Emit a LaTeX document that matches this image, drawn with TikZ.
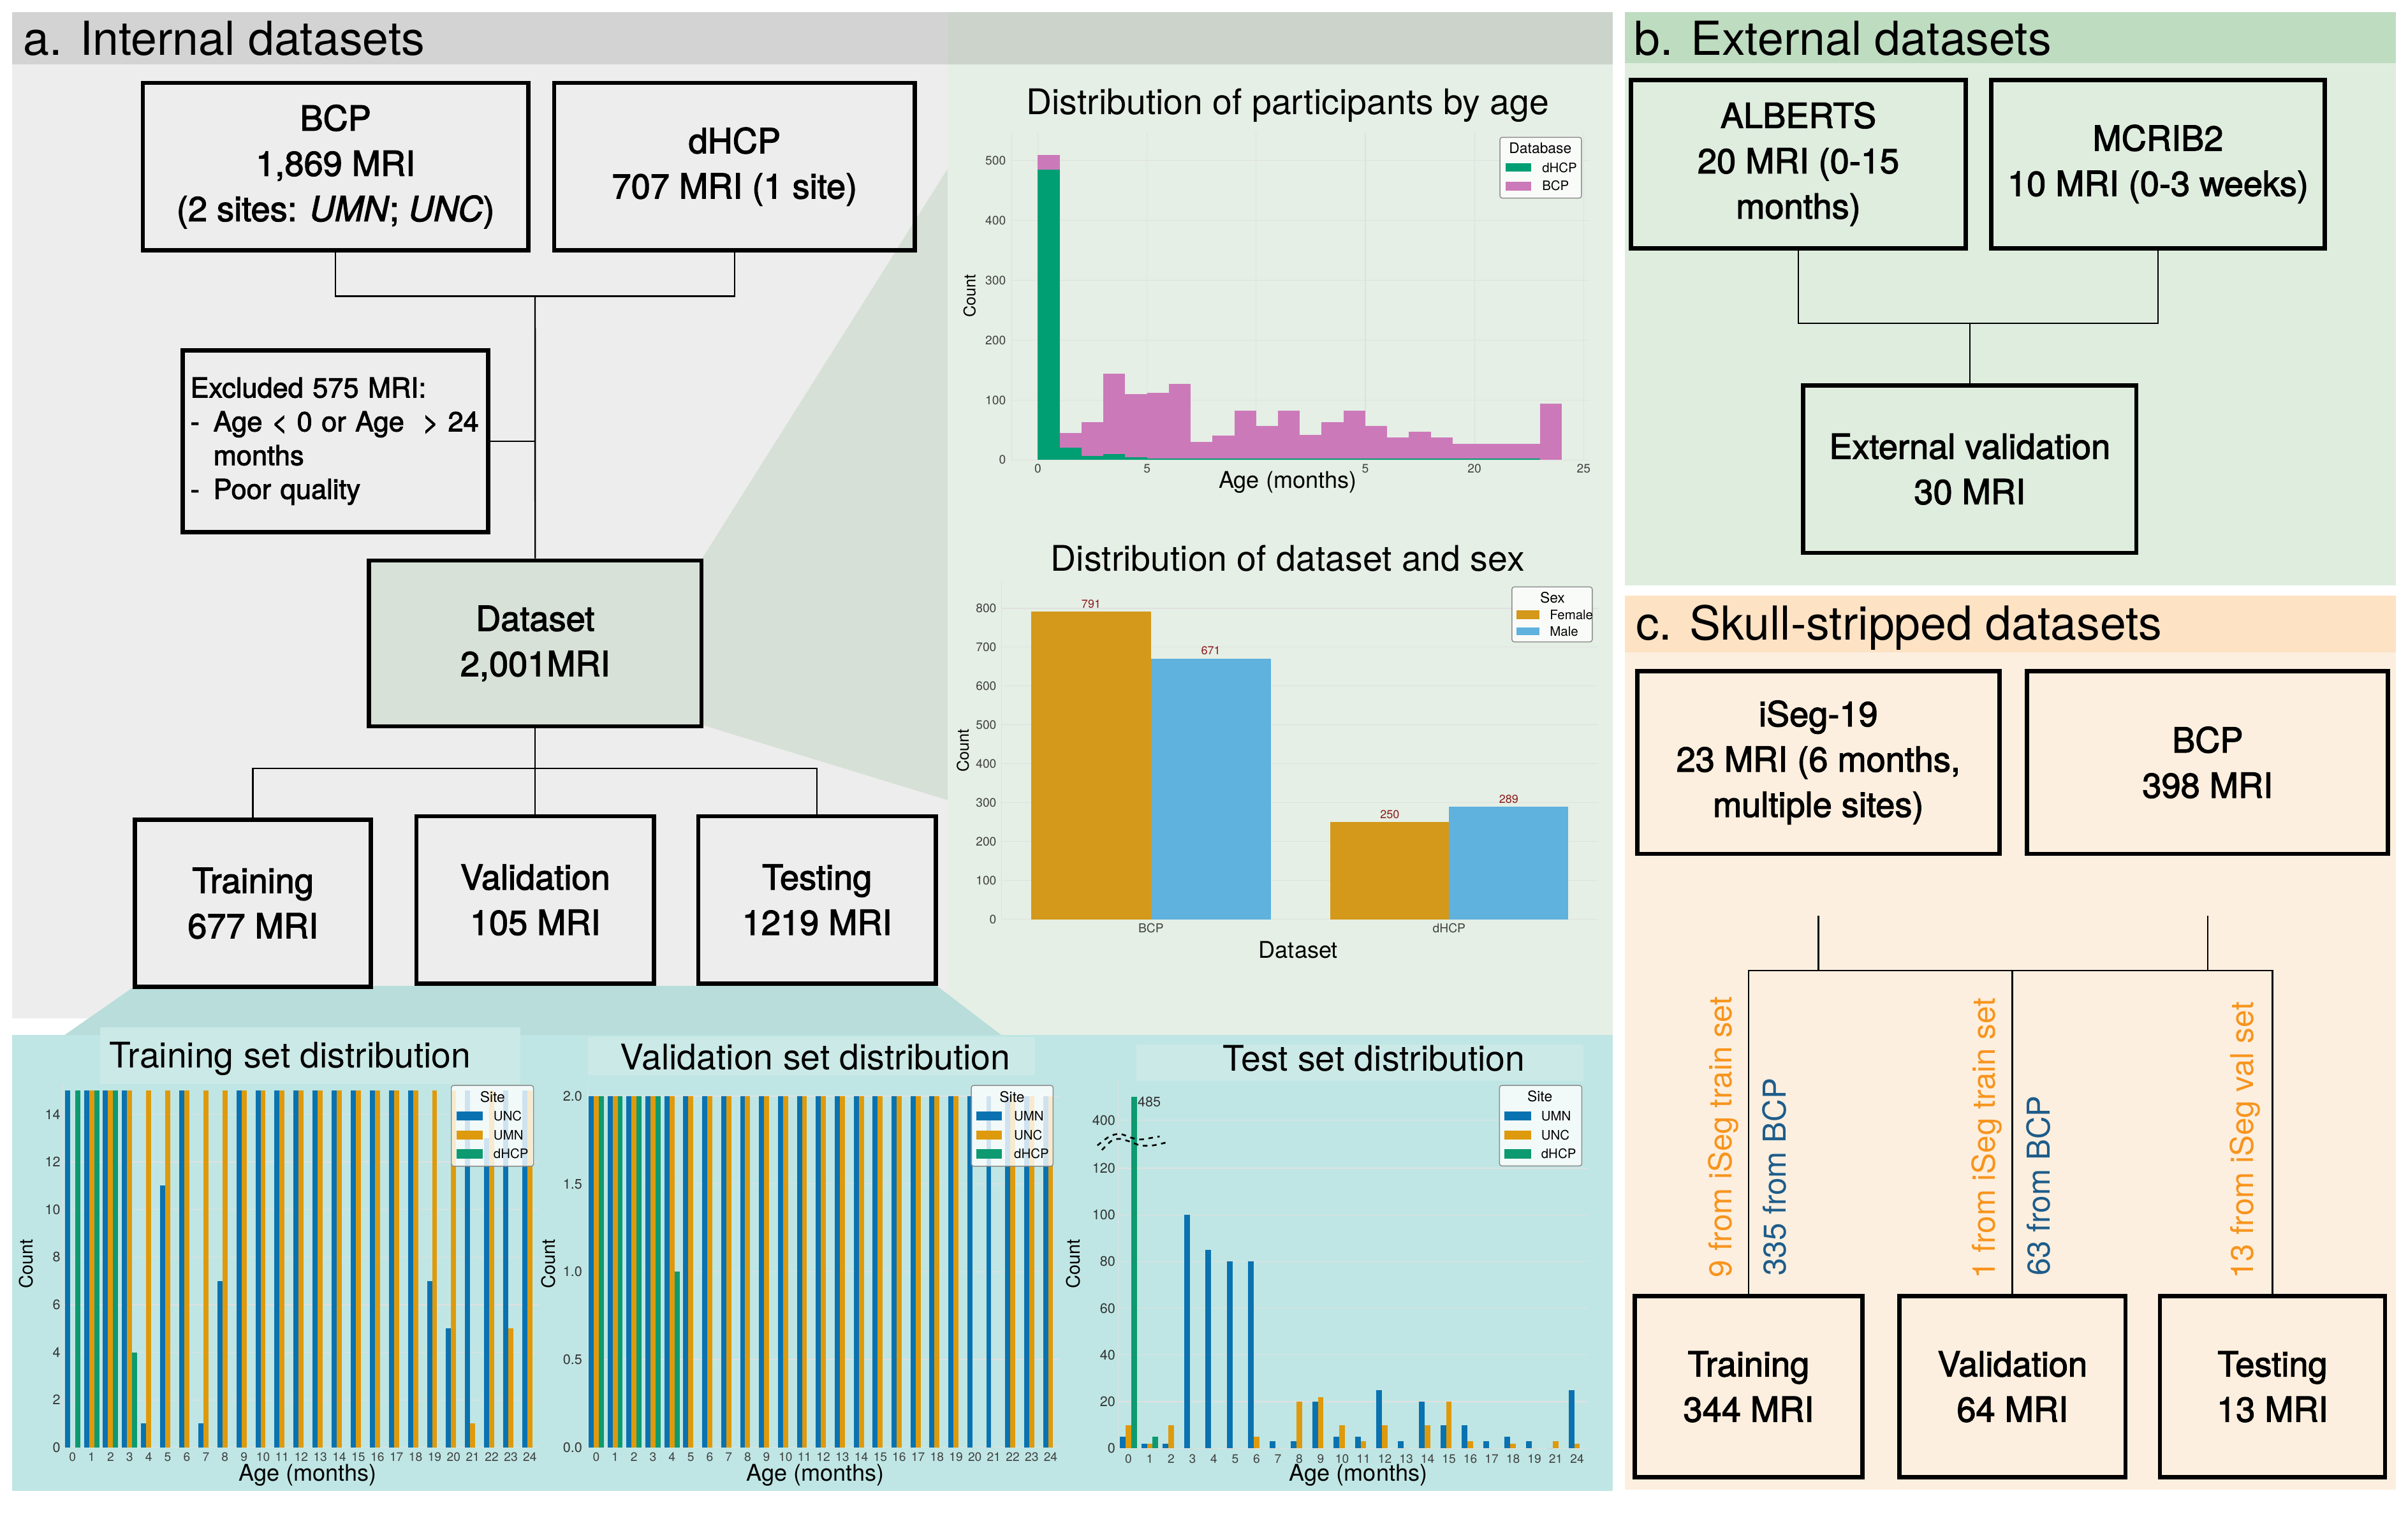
\documentclass[tikz,border=0pt]{standalone}
\usepackage{fontspec}
\setmainfont{TeX Gyre Heros}
\newfontfamily\boxfont[FakeBold=2.2]{TeX Gyre Heros}
\usetikzlibrary{positioning}

\definecolor{panelGray}{HTML}{EDEDED}
\definecolor{headGray}{HTML}{D3D3D3}
\definecolor{headGreenGray}{HTML}{CBD3CB}
\definecolor{chartGreen}{HTML}{E5EFE5}
\definecolor{wedgeGreen}{HTML}{D6E0D6}
\definecolor{dataBox}{HTML}{D7E1D7}
\definecolor{tealBg}{HTML}{BFE6E4}
\definecolor{tealWedge}{HTML}{B8DDDB}
\definecolor{tealTitle}{HTML}{CBE9E6}
\definecolor{extBg}{HTML}{DFEDDF}
\definecolor{extHead}{HTML}{BEDCC0}
\definecolor{skullBg}{HTML}{FDEFDF}
\definecolor{skullHead}{HTML}{FDE2C4}
\definecolor{siteBlue}{HTML}{0A72B0}
\definecolor{siteOrange}{HTML}{DE9A0C}
\definecolor{siteGreen}{HTML}{0D9A70}
\definecolor{dbGreen}{HTML}{009E73}
\definecolor{dbPink}{HTML}{CC79BA}
\definecolor{sexFemale}{HTML}{D4991A}
\definecolor{sexMale}{HTML}{5FB1DE}
\definecolor{valRed}{HTML}{8B1A1A}
\definecolor{iSegOrange}{HTML}{F7941D}
\definecolor{bcpBlue}{HTML}{1D5C8A}

\tikzset{
  flowbox/.style={rectangle, draw=black, line width=2.8pt, align=center, inner sep=0pt,
    font=\boxfont\fontsize{22.5}{29.5}\selectfont},
  link/.style={line width=1pt},
  panelTitle/.style={anchor=base west, inner sep=0pt, font=\fontsize{30.5}{32}\selectfont},
  chartTitle/.style={inner sep=0pt, font=\fontsize{23}{25}\selectfont},
  tickLabel/.style={inner sep=0pt, text=black!75, font=\fontsize{8}{9}\selectfont},
  siteTick/.style={inner sep=0pt, text=black!80, font=\fontsize{9}{10}\selectfont},
  axisLabel/.style={inner sep=0pt, font=\fontsize{15}{16}\selectfont},
  countLabel/.style={inner sep=0pt, rotate=90, font=\fontsize{12}{13}\selectfont},
  legendBox/.style={draw=black!45, fill=white, fill opacity=0.8, rounded corners=1.5pt, line width=0.6pt},
  legendHead/.style={inner sep=0pt, font=\fontsize{9.5}{10}\selectfont},
  legendText/.style={anchor=west, inner sep=0pt, font=\fontsize{8.5}{9}\selectfont},
  splitLabel/.style={rotate=90, anchor=west, inner sep=0pt, font=\fontsize{20.5}{22}\selectfont},
  gridLine/.style={draw=black!12, line width=0.5pt},
}

\begin{document}
\begin{tikzpicture}[x=1pt, y=-1pt]
	\useasboundingbox (0,0) rectangle (1568,998);
	\fill[white] (0,0) rectangle (1568,998);

	% panel backgrounds
	\fill[panelGray] (8,8) rectangle (1050,663);
	\fill[chartGreen] (617,42) rectangle (1050,674);
	\fill[headGray] (8,8) rectangle (617,42);
	\fill[headGreenGray] (617,8) rectangle (1050,42);
	\fill[wedgeGreen] (457,364) -- (617,110) -- (617,521) -- (457,472) -- cycle;
	\fill[tealBg] (8,674) rectangle (1050,971);
	\fill[tealWedge] (88,642) -- (610,642) -- (652,674) -- (42,674) -- cycle;
	\fill[extBg] (1058,8) rectangle (1560,381);
	\fill[extHead] (1058,8) rectangle (1560,41);
	\fill[skullBg] (1058,388) rectangle (1560,970);
	\fill[skullHead] (1058,388) rectangle (1560,425);

	\node[panelTitle] (titleA) at (15,35.8) {a. Internal datasets};
	\node[panelTitle] (titleB) at (1064,35.8) {b. External datasets};
	\node[panelTitle] (titleC) at (1065,416.6) {c. Skull-stripped datasets};

	% internal flow
	\node[flowbox, minimum width=251, minimum height=109](bcpA) at (218.5,108.5){BCP\\1,869 MRI\\(2 sites: \textit{UMN}; \textit{UNC})};
	\node[flowbox, minimum width=235, minimum height=109](dhcpA) at (478.3,108.5){dHCP\\707 MRI (1 site)};
	\coordinate (mergeA) at (348.4,192.8);
	\node[rectangle, draw=black, line width=2.8pt, minimum height=118.5, text width=189pt, align=left, inner xsep=5pt, inner ysep=0pt,
		font=\boxfont\fontsize{18}{22}\selectfont](exclA) at (218.5,287.3){Excluded 575 MRI:\\\mbox{\makebox[15pt][l]{-}Age < 0 or Age\ \ > 24}\\\hspace*{15pt}months\\\makebox[15pt][l]{-}Poor quality};
	\node[flowbox, fill=dataBox, minimum width=216.5, minimum height=108](datasetA) at (348.5,419){Dataset\\2,001MRI};
	\coordinate (splitA) at (348.5,500.3);
	\node[flowbox, minimum width=153.7, minimum height=109](trainA) at (164.7,588.2){Training\\677 MRI};
	\node[flowbox, minimum width=154.7, minimum height=109](valA) at (348.5,586){Validation\\105 MRI};
	\node[flowbox, minimum width=154.6, minimum height=109](testA) at (532,586){Testing\\1219 MRI};

	\draw[link] (bcpA.south) |- (mergeA) -| (dhcpA.south);
	\draw[link] (mergeA) -- (datasetA.north);
	\draw[link] (exclA.east) -- (exclA.east -| mergeA);
	\draw[link] (datasetA.south) -- (splitA);
	\draw[link] (trainA.north) |- (splitA) -| (testA.north);
	\draw[link] (splitA) -- (valA.north);

	% external flow
	\node[flowbox, minimum width=218, minimum height=109.6](albB) at (1171,106.8){ALBERTS\\20 MRI (0-15\\months)};
	\node[flowbox, minimum width=217, minimum height=109.6](mcribB) at (1405.2,106.8){MCRIB2\\10 MRI (0-3 weeks)};
	\coordinate (mergeB) at (1282.6,210.5);
	\node[flowbox, minimum width=217, minimum height=109](extB) at (1282.6,305.5){External validation\\30 MRI};

	\draw[link] (albB.south) |- (mergeB) -| (mcribB.south);
	\draw[link] (mergeB) -- (extB.north);

	% skull-stripped flow
	\node[flowbox, minimum width=236, minimum height=119](isegC) at (1184,496.5){iSeg-19\\23 MRI (6 months,\\multiple sites)};
	\node[flowbox, minimum width=235, minimum height=119](bcpC) at (1437.5,496.5){BCP\\398 MRI};
	\coordinate[below=39pt of isegC.south] (isegStub);
	\coordinate[below=39pt of bcpC.south] (bcpStub);
	\coordinate (joinC) at (1310.4,632);
	\node[flowbox, minimum width=148, minimum height=118](trainC) at (1138.6,903){Training\\344 MRI};
	\node[flowbox, minimum width=147.3, minimum height=118](valC) at (1310.4,903){Validation\\64 MRI};
	\node[flowbox, minimum width=146.6, minimum height=118](testC) at (1479.7,903){Testing\\13 MRI};

	\draw[link] (isegStub) -- (isegStub |- joinC);
	\draw[link] (bcpStub) -- (bcpStub |- joinC);
	\draw[link] (trainC.north) |- (joinC) -| (testC.north);
	\draw[link] (joinC) -- (valC.north);

	\node[splitLabel, text=iSegOrange](trainIseg) at (1122,832){9 from iSeg train set};
	\node[splitLabel, text=bcpBlue](trainBcp) at (1155.6,831){335 from BCP};
	\node[splitLabel, text=iSegOrange](valIseg) at (1293.6,833){1 from iSeg train set};
	\node[splitLabel, text=bcpBlue](valBcp) at (1327.5,831){63 from BCP};
	\node[splitLabel, text=iSegOrange](testIseg) at (1462,833){13 from iSeg val set};

	% participants by age
	\node[chartTitle](titleAge) at (838.5,68.7){Distribution of participants by age};
	\begin{scope}[shift={(675.8pt,-299.5pt)}, x=14.215pt, y=0.3898pt]
		\foreach \v in {0,100,...,500} \draw[gridLine] (-1.2,\v) -- (25.25,\v);
		\foreach \t in {0,5,...,25} \draw[gridLine] (\t,0) -- (\t,547);
		\draw[gridLine] (-1.2,0) -- (-1.2,547);
		\foreach \h [count=\b from 0] in {509,45,63,144,110,112,127,30,41,82,57,82,42,63,82,57,38,47,38,27,27,27,27,94}
			\fill[dbPink] (\b,0) rectangle (\b+1,\h);
		\foreach \h [count=\b from 0] in {485,20,7,10,4,2,2,2,2,2,2,2,2,2,2,2,2,2,2,2,2,2,2}
			\fill[dbGreen] (\b,0) rectangle (\b+1,\h);
		\foreach \v in {0,100,...,500} \node[tickLabel, anchor=east] at (-1.45,\v) {\v};
		\foreach \t/\l in {0/0,5/5,15/5,20/20,25/25} \node[tickLabel, anchor=north] at (\t,-7) {\l};
	\end{scope}
	\node[countLabel, font=\fontsize{10.5}{11}\selectfont](countAge) at (631.3,192.7){Count};
	\node[axisLabel](xAge) at (838.5,314){Age (months)};
	\node[legendBox, minimum width=53.1, minimum height=39.6](legAge) at (1003.25,109.2){};
	\node[legendHead](legAgeHead) at (1003,96.3){Database};
	\fill[dbGreen] (980.3,106.3) rectangle (997,111.8);
	\node[legendText](legAgeDhcp) at (1004,109.2){dHCP};
	\fill[dbPink] (980.3,118.3) rectangle (997,124.2);
	\node[legendText](legAgeBcp) at (1004,121){BCP};

	% dataset and sex
	\node[chartTitle](titleSex) at (838.5,363.7){Distribution of dataset and sex};
	\begin{scope}[shift={(0pt,-598.6pt)}, x=1pt, y=0.2531pt]
		\foreach \v in {0,100,...,800} \draw[gridLine] (652,\v) -- (1040.6,\v);
		\draw[gridLine] (652,0) -- (652,870);
		\fill[sexFemale] (671.6,0) rectangle (749.5,791);
		\fill[sexMale] (749.5,0) rectangle (827.4,671);
		\fill[sexFemale] (866.3,0) rectangle (943.6,250);
		\fill[sexMale] (943.6,0) rectangle (1021.2,289);
		\foreach \cx/\v in {710.5/791,788.4/671,905/250,982.4/289}
			\node[tickLabel, text=valRed, anchor=south, font=\fontsize{7.5}{8}\selectfont] at (\cx,\v+8) {\v};
		\foreach \v in {0,100,...,800} \node[tickLabel, anchor=east] at (649,\v) {\v};
		\node[tickLabel, anchor=north] at (749.5,-10) {BCP};
		\node[tickLabel, anchor=north] at (943.6,-10) {dHCP};
	\end{scope}
	\node[countLabel, font=\fontsize{10.5}{11}\selectfont](countSex) at (627,488.8){Count};
	\node[axisLabel](xSex) at (845.4,618.6){Dataset};
	\node[legendBox, minimum width=52.3, minimum height=35.8](legSex) at (1010.65,400.1){};
	\node[legendHead](legSexHead) at (1010.9,389){Sex};
	\fill[sexFemale] (987.3,397.6) rectangle (1002.6,403);
	\node[legendText](legSexF) at (1009,400.4){Female};
	\fill[sexMale] (987.3,408.4) rectangle (1002.6,413.7);
	\node[legendText](legSexM) at (1009,411.1){Male};

	% training set
	\fill[tealTitle] (65,669) rectangle (339,706);
	\node[chartTitle](titleTrain) at (189,689.3){Training set distribution};
	\begin{scope}[shift={(47.2pt,-942.5pt)}, x=12.41pt, y=15.49pt]
		\foreach \v in {0,2,...,14} \draw[gridLine] (-0.5,\v) -- (24.45,\v);
		\draw[gridLine] (-0.5,0) -- (-0.5,15.3);
		\foreach \h [count=\g from 0] in {15,15,15,15,1,11,15,1,7,15,15,15,15,15,15,15,15,15,15,7,5,15,13,15,15}
			\fill[siteBlue] (\g-0.4,0) rectangle (\g-0.133,\h);
		\foreach \h [count=\g from 0] in {0,15,15,15,15,15,15,15,15,15,15,15,15,15,15,15,15,15,15,15,15,1,15,5,15}
			\fill[siteOrange] (\g-0.133,0) rectangle (\g+0.133,\h);
		\foreach \h [count=\g from 0] in {15,15,15,4}
			\fill[siteGreen] (\g+0.133,0) rectangle (\g+0.4,\h);
		\foreach \v in {0,2,...,14} \node[siteTick, anchor=east] at (-0.62,\v) {\v};
		\foreach \g in {0,...,24} \node[tickLabel, anchor=north] at (\g,-0.2) {\g};
	\end{scope}
	\node[countLabel](countTrain) at (17,823){Count};
	\node[axisLabel](xTrain) at (200.5,960.4){Age (months)};
	\node[legendBox, minimum width=53.5, minimum height=52.6](legTrain) at (320.65,733.1){};
	\node[legendHead](legTrainHead) at (320.7,714.1){Site};
	\fill[siteBlue] (297.3,723.7) rectangle (314.4,729.6);
	\node[legendText](legTrainUnc) at (321.2,726.7){UNC};
	\fill[siteOrange] (297.3,736.4) rectangle (314.4,742);
	\node[legendText](legTrainUmn) at (321.2,739.4){UMN};
	\fill[siteGreen] (297.3,748.3) rectangle (314.4,754.3);
	\node[legendText](legTrainDhcp) at (321.2,751.3){dHCP};

	% validation set
	\fill[tealTitle] (383,675) rectangle (674,700);
	\node[chartTitle](titleVal) at (530.9,688.3){Validation set distribution};
	\begin{scope}[shift={(388.2pt,-942.5pt)}, x=12.33pt, y=114.35pt]
		\foreach \v in {0,0.5,1,1.5,2} \draw[gridLine] (-0.45,\v) -- (24.43,\v);
		\draw[gridLine] (-0.45,0) -- (-0.45,2.08);
		\foreach \h [count=\g from 0] in {2,2,2,2,2,2,2,2,2,2,2,2,2,2,2,2,2,2,2,2,2,2,2,2,2}
			\fill[siteBlue] (\g-0.4,0) rectangle (\g-0.133,\h);
		\foreach \h [count=\g from 0] in {2,2,2,2,2,2,2,2,2,2,2,2,2,2,2,2,2,2,2,2,0,0,2,2,2}
			\fill[siteOrange] (\g-0.133,0) rectangle (\g+0.133,\h);
		\foreach \h [count=\g from 0] in {2,2,2,2,1}
			\fill[siteGreen] (\g+0.133,0) rectangle (\g+0.4,\h);
		\foreach \v in {0.0,0.5,1.0,1.5,2.0} \node[siteTick, anchor=east] at (-0.72,\v) {\v};
		\foreach \g in {0,...,24} \node[tickLabel, anchor=north] at (\g,-0.027) {\g};
	\end{scope}
	\node[countLabel](countVal) at (357,823){Count};
	\node[axisLabel](xVal) at (530.9,960.4){Age (months)};
	\node[legendBox, minimum width=53.2, minimum height=52.6](legVal) at (659.1,733.1){};
	\node[legendHead](legValHead) at (659,714.2){Site};
	\fill[siteBlue] (635.8,723.7) rectangle (652.5,729.6);
	\node[legendText](legValUmn) at (660.1,726.7){UMN};
	\fill[siteOrange] (635.8,736.3) rectangle (652.5,742);
	\node[legendText](legValUnc) at (660.1,739.2){UNC};
	\fill[siteGreen] (635.8,748.3) rectangle (652.5,754.3);
	\node[legendText](legValDhcp) at (660.1,751.3){dHCP};

	% test set
	\fill[tealTitle] (740,680) rectangle (1031,704);
	\node[chartTitle](titleTest) at (894.7,689.3){Test set distribution};
	\begin{scope}[shift={(734.8pt,-943.1pt)}, x=13.91pt, y=1.52pt]
		\foreach \v in {0,20,...,120,140.6} \draw[gridLine] (-0.48,\v) -- (21.52,\v);
		\draw[gridLine] (-0.48,0) -- (-0.48,158);
		\foreach \h [count=\g from 0] in {5,2,2,100,85,80,80,3,3,20,5,5,25,3,20,10,10,3,5,3,0,25}
			\fill[siteBlue] (\g-0.39,0) rectangle (\g-0.13,\h);
		\foreach \h [count=\g from 0] in {10,2,10,0,0,0,5,0,20,22,10,3,10,0,10,20,3,0,2,0,3,2}
			\fill[siteOrange] (\g-0.13,0) rectangle (\g+0.13,\h);
		\foreach \h [count=\g from 0] in {150.6,5}
			\fill[siteGreen] (\g+0.13,0) rectangle (\g+0.39,\h);
		\node[siteTick, anchor=west](dhcpPeak) at (0.42,148.3){485};
		\foreach \v in {0,20,...,120} \node[siteTick, anchor=east] at (-0.6,\v) {\v};
		\node[siteTick, anchor=east] at (-0.6,140.6) {400};
		\foreach \l [count=\p from 0] in {0,1,2,3,4,5,6,7,8,9,10,11,12,13,14,15,16,17,18,19,21,24}
			\node[tickLabel, anchor=north] at (\p,-2.5) {\l};
	\end{scope}
	% axis break
	\draw[dashed, line width=1.1pt] plot[smooth] coordinates {(714.6,745.9) (722.5,740) (729.2,738.4) (737.1,741) (742.7,742) (749.5,741) (755.1,740)};
	\draw[dashed, line width=1.1pt] plot[smooth] coordinates {(717.5,748.9) (723.6,743) (729.2,741.6) (736,743.5) (742.7,745.9) (750.6,745.9) (759.6,743.9)};
	\node[countLabel](countTest) at (699,823){Count};
	\node[axisLabel](xTest) at (884.5,960.4){Age (months)};
	\node[legendBox, minimum width=53.6, minimum height=52.4](legTest) at (1003.2,733){};
	\node[legendHead](legTestHead) at (1002.7,713.8){Site};
	\fill[siteBlue] (979.5,723.7) rectangle (997.1,729.6);
	\node[legendText](legTestUmn) at (1003.4,726.7){UMN};
	\fill[siteOrange] (979.5,736.1) rectangle (997.1,742);
	\node[legendText](legTestUnc) at (1003.4,739){UNC};
	\fill[siteGreen] (979.5,748.3) rectangle (997.1,754.3);
	\node[legendText](legTestDhcp) at (1003.4,751.3){dHCP};
\end{tikzpicture}
\end{document}
